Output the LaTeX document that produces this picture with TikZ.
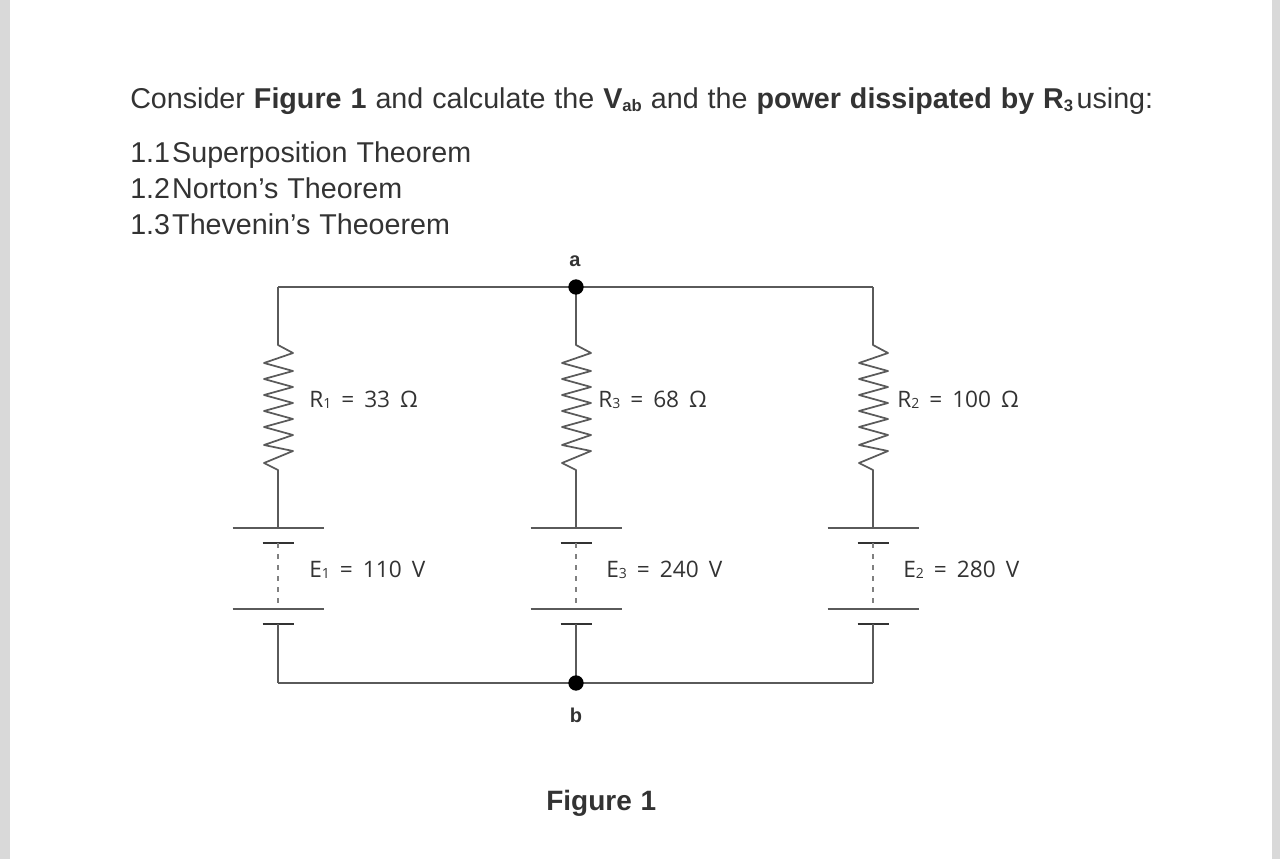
\documentclass[tikz,border=0pt]{standalone}
\usepackage{fontspec}
\setmainfont[WordSpace=1.13]{Liberation Sans}
\newfontfamily\circfont[WordSpace=1.7]{Open Sans}
\definecolor{ink}{HTML}{333333}
\definecolor{wire}{HTML}{5A5A5A}
\definecolor{edgegray}{HTML}{D9D9D9}
\newcommand{\subs}[1]{\raisebox{-0.08em}{\fontsize{12.5}{12.5}\selectfont #1}}
\newcommand{\csub}[1]{\raisebox{-0.08em}{\fontsize{10.5}{10.5}\selectfont #1}}
\newcommand{\numitem}[2]{\makebox[31.5pt][l]{#1}#2}
\tikzset{
  body/.style={anchor=base west,inner sep=0pt,text=ink,font=\fontsize{21.5}{24}\selectfont},
  complabel/.style={anchor=base west,inner sep=0pt,text=ink,font=\circfont\fontsize{17}{19}\selectfont},
  termlabel/.style={anchor=base,inner sep=0pt,text=ink,font=\bfseries\fontsize{15}{16}\selectfont},
  figlabel/.style={anchor=base west,inner sep=0pt,text=ink,font=\bfseries\fontsize{21}{24}\selectfont},
  wireline/.style={draw=wire,line width=1.3pt},
  plate/.style={draw=wire,line width=1.2pt},
  shortplate/.style={draw=black!80,line width=1.8pt},
  cellgap/.style={draw=black!50,line width=1.3pt,dash pattern=on 3.4pt off 4.9pt},
  junction/.style={circle,fill=black,draw=none,minimum size=11.5pt,inner sep=0pt}
}
\newcommand{\branch}[2]{%
  % #1 = tag, #2 = x
  \coordinate (#1top) at (#2,287);
  \coordinate (#1rs) at (#2,345);
  \coordinate (#1re) at (#2,470);
  \coordinate (#1pa) at (#2,528);
  \coordinate (#1pb) at (#2,543);
  \coordinate (#1pc) at (#2,609);
  \coordinate (#1pd) at (#2,624);
  \coordinate (#1bot) at (#2,683);
  \draw[wireline,line join=round] (#1top) -- (#1rs)
    -- ++(15,8) -- ++(-29,10) -- ++(29,8) -- ++(-29,8) -- ++(29,8) -- ++(-29,8)
    -- ++(29,8) -- ++(-29,8) -- ++(29,8) -- ++(-29,8) -- ++(29,8) -- ++(-29,10)
    -- ++(29,6) -- ++(-29,12) -- (#1re) -- (#1pa);
  \draw[plate] ([xshift=-45.5*0.75pt]#1pa) -- ([xshift=45.5*0.75pt]#1pa);
  \draw[shortplate] ([xshift=-15.5*0.75pt]#1pb) -- ([xshift=15.5*0.75pt]#1pb);
  \draw[cellgap] (#1pb) -- (#1pc);
  \draw[plate] ([xshift=-45.5*0.75pt]#1pc) -- ([xshift=45.5*0.75pt]#1pc);
  \draw[shortplate] ([xshift=-15.5*0.75pt]#1pd) -- ([xshift=15.5*0.75pt]#1pd);
  \draw[wireline] (#1pd) -- (#1bot);
}
\begin{document}
\begin{tikzpicture}[x=0.75pt,y=-0.75pt]
\useasboundingbox (0,0) rectangle (1280,859);
\fill[edgegray] (0,0) rectangle (10,859);
\fill[edgegray] (1272,0) rectangle (1280,859);

\node[body] (intro) at (130,109) {Consider \textbf{Figure 1} and calculate the \textbf{V\subs{ab}} and the \textbf{power dissipated by R\subs{3}}\hspace{0.12em}using:};
\node[body] (item1) at (130,163) {\numitem{1.1}{Superposition Theorem}};
\node[body] (item2) at (130,199) {\numitem{1.2}{Norton’s Theorem}};
\node[body] (item3) at (130,234) {\numitem{1.3}{Thevenin’s Theoerem}};

\branch{l}{278}
\branch{m}{576}
\branch{r}{873}
\draw[wireline] (ltop) -- (mtop) -- (rtop);
\draw[wireline] (lbot) -- (mbot) -- (rbot);

\node[junction] (nodea) at (mtop) {};
\node[junction] (nodeb) at (mbot) {};
\node[termlabel] (labela) at (575,267) {a};
\node[termlabel] (labelb) at (576,722) {b};

\node[complabel] (r1label) at (309,407) {R\csub{1} = 33 Ω};
\node[complabel] (r3label) at (598,407) {R\csub{3} = 68 Ω};
\node[complabel] (r2label) at (897,407) {R\csub{2} = 100 Ω};
\node[complabel] (e1label) at (309,577) {E\csub{1} = 110 V};
\node[complabel] (e3label) at (606,577) {E\csub{3} = 240 V};
\node[complabel] (e2label) at (903,577) {E\csub{2} = 280 V};

\node[figlabel] (figcap) at (546,810) {Figure 1};
\end{tikzpicture}
\end{document}
